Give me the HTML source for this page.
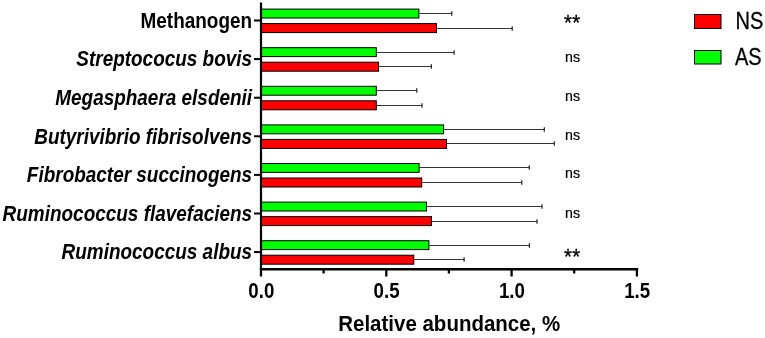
<!DOCTYPE html><html><head><meta charset="utf-8"><style>html,body{margin:0;padding:0;background:#fff;}svg{display:block;}text{font-family:"Liberation Sans",Arial,sans-serif;}</style></head><body>
<svg width="765" height="338" viewBox="0 0 765 338">
<rect width="765" height="338" fill="#fff"/>
<path d="M419.4 13.5H451.8M437.0 28.5H512.2" stroke="#333" stroke-width="1.2" fill="none"/>
<path d="M451.8 11.2V15.8M512.2 26.2V30.8" stroke="#222" stroke-width="1.2" fill="none"/>
<rect x="261.0" y="9.1" width="157.9" height="8.9" fill="#00ff00" stroke="#000" stroke-width="1"/>
<rect x="261.0" y="23.6" width="175.5" height="9.0" fill="#ff0000" stroke="#000" stroke-width="1"/>
<path d="M254 20.5H261" stroke="#000" stroke-width="2"/>
<text transform="translate(252.10 27.70) scale(1 1.12)" font-size="18.95" text-anchor="end" font-weight="bold">Methanogen</text>
<text letter-spacing="0.4" stroke="#000" stroke-width="0.3" transform="translate(563.90 29.60) scale(1 1.1)" font-size="20.5">**</text>
<path d="M376.8 52.5H454.1M379.1 66.5H431.4" stroke="#333" stroke-width="1.2" fill="none"/>
<path d="M454.1 50.2V54.8M431.4 64.2V68.8" stroke="#222" stroke-width="1.2" fill="none"/>
<rect x="261.0" y="47.7" width="115.3" height="8.9" fill="#00ff00" stroke="#000" stroke-width="1"/>
<rect x="261.0" y="62.2" width="117.6" height="9.0" fill="#ff0000" stroke="#000" stroke-width="1"/>
<path d="M254 59.1H261" stroke="#000" stroke-width="2"/>
<text transform="translate(252.10 66.30) scale(1 1.12)" font-size="18.95" text-anchor="end" font-weight="bold" font-style="italic">Streptococus bovis</text>
<text stroke="#000" stroke-width="0.2" transform="translate(565.10 62.30) scale(1 1.0)" font-size="14.2">ns</text>
<path d="M376.8 90.5H416.8M376.8 105.5H422.0" stroke="#333" stroke-width="1.2" fill="none"/>
<path d="M416.8 88.2V92.8M422.0 103.2V107.8" stroke="#222" stroke-width="1.2" fill="none"/>
<rect x="261.0" y="86.3" width="115.3" height="8.9" fill="#00ff00" stroke="#000" stroke-width="1"/>
<rect x="261.0" y="100.8" width="115.3" height="9.0" fill="#ff0000" stroke="#000" stroke-width="1"/>
<path d="M254 97.7H261" stroke="#000" stroke-width="2"/>
<text transform="translate(252.10 104.90) scale(1 1.12)" font-size="18.95" text-anchor="end" font-weight="bold" font-style="italic">Megasphaera elsdenii</text>
<text stroke="#000" stroke-width="0.2" transform="translate(565.10 101.40) scale(1 1.0)" font-size="14.2">ns</text>
<path d="M444.1 129.5H544.3M447.0 143.5H554.3" stroke="#333" stroke-width="1.2" fill="none"/>
<path d="M544.3 127.2V131.8M554.3 141.2V145.8" stroke="#222" stroke-width="1.2" fill="none"/>
<rect x="261.0" y="124.9" width="182.6" height="8.9" fill="#00ff00" stroke="#000" stroke-width="1"/>
<rect x="261.0" y="139.4" width="185.5" height="9.0" fill="#ff0000" stroke="#000" stroke-width="1"/>
<path d="M254 136.3H261" stroke="#000" stroke-width="2"/>
<text transform="translate(252.10 143.50) scale(1 1.12)" font-size="18.95" text-anchor="end" font-weight="bold" font-style="italic">Butyrivibrio fibrisolvens</text>
<text stroke="#000" stroke-width="0.2" transform="translate(565.10 139.50) scale(1 1.0)" font-size="14.2">ns</text>
<path d="M419.6 167.5H529.3M422.2 182.5H521.8" stroke="#333" stroke-width="1.2" fill="none"/>
<path d="M529.3 165.2V169.8M521.8 180.2V184.8" stroke="#222" stroke-width="1.2" fill="none"/>
<rect x="261.0" y="163.5" width="158.1" height="8.9" fill="#00ff00" stroke="#000" stroke-width="1"/>
<rect x="261.0" y="178.0" width="160.7" height="9.0" fill="#ff0000" stroke="#000" stroke-width="1"/>
<path d="M254 174.9H261" stroke="#000" stroke-width="2"/>
<text transform="translate(252.10 182.10) scale(1 1.12)" font-size="18.95" text-anchor="end" font-weight="bold" font-style="italic">Fibrobacter succinogens</text>
<text stroke="#000" stroke-width="0.2" transform="translate(565.10 178.20) scale(1 1.0)" font-size="14.2">ns</text>
<path d="M426.9 206.5H542.0M432.0 221.5H537.0" stroke="#333" stroke-width="1.2" fill="none"/>
<path d="M542.0 204.2V208.8M537.0 219.2V223.8" stroke="#222" stroke-width="1.2" fill="none"/>
<rect x="261.0" y="202.1" width="165.4" height="8.9" fill="#00ff00" stroke="#000" stroke-width="1"/>
<rect x="261.0" y="216.6" width="170.5" height="9.0" fill="#ff0000" stroke="#000" stroke-width="1"/>
<path d="M254 213.5H261" stroke="#000" stroke-width="2"/>
<text transform="translate(252.10 220.70) scale(1 1.12)" font-size="18.95" text-anchor="end" font-weight="bold" font-style="italic">Ruminococcus flavefaciens</text>
<text stroke="#000" stroke-width="0.2" transform="translate(565.10 218.25) scale(1 1.0)" font-size="14.2">ns</text>
<path d="M429.4 245.5H529.4M414.3 259.5H464.1" stroke="#333" stroke-width="1.2" fill="none"/>
<path d="M529.4 243.2V247.8M464.1 257.2V261.8" stroke="#222" stroke-width="1.2" fill="none"/>
<rect x="261.0" y="240.7" width="167.9" height="8.9" fill="#00ff00" stroke="#000" stroke-width="1"/>
<rect x="261.0" y="255.2" width="152.8" height="9.0" fill="#ff0000" stroke="#000" stroke-width="1"/>
<path d="M254 252.1H261" stroke="#000" stroke-width="2"/>
<text transform="translate(252.10 259.30) scale(1 1.12)" font-size="18.95" text-anchor="end" font-weight="bold" font-style="italic">Ruminococcus albus</text>
<text letter-spacing="0.4" stroke="#000" stroke-width="0.3" transform="translate(563.90 264.00) scale(1 1.1)" font-size="20.5">**</text>
<path d="M261 2.5V270" stroke="#000" stroke-width="2.2" fill="none"/>
<path d="M260 269.3H638.2" stroke="#000" stroke-width="2.6" fill="none"/>
<path d="M261.0 268V276.5" stroke="#000" stroke-width="2.3"/>
<path d="M323.6 268V273.5" stroke="#000" stroke-width="2.3"/>
<path d="M386.3 268V276.5" stroke="#000" stroke-width="2.3"/>
<path d="M448.9 268V273.5" stroke="#000" stroke-width="2.3"/>
<path d="M511.6 268V276.5" stroke="#000" stroke-width="2.3"/>
<path d="M574.2 268V273.5" stroke="#000" stroke-width="2.3"/>
<path d="M636.9 268V276.5" stroke="#000" stroke-width="2.3"/>
<text transform="translate(261.30 297.60) scale(1 1.16)" font-size="18.7" text-anchor="middle" font-weight="bold">0.0</text>
<text transform="translate(386.60 297.60) scale(1 1.16)" font-size="18.7" text-anchor="middle" font-weight="bold">0.5</text>
<text transform="translate(511.90 297.60) scale(1 1.16)" font-size="18.7" text-anchor="middle" font-weight="bold">1.0</text>
<text transform="translate(637.20 297.60) scale(1 1.16)" font-size="18.7" text-anchor="middle" font-weight="bold">1.5</text>
<text transform="translate(449.20 331.30) scale(1 1.12)" font-size="20.5" text-anchor="middle" font-weight="bold">Relative abundance, %</text>
<rect x="694.5" y="14.5" width="26.5" height="14" fill="#ff0000" stroke="#000" stroke-width="1"/>
<rect x="694.5" y="50.5" width="26.5" height="13.5" fill="#00ff00" stroke="#000" stroke-width="1"/>
<text stroke="#000" stroke-width="0.25" transform="translate(735.50 29.20) scale(1 1.15)" font-size="20">NS</text>
<text stroke="#000" stroke-width="0.25" transform="translate(735.00 64.90) scale(1 1.15)" font-size="20">AS</text>
</svg></body></html>
